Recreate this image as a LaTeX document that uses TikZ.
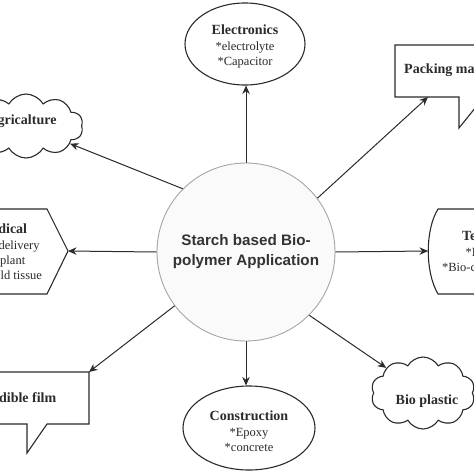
\documentclass[tikz,border=0pt]{standalone}
\usepackage{fontspec}
\setmainfont{Liberation Serif}
\setsansfont{Liberation Sans}
\usetikzlibrary{shapes.geometric,shapes.symbols,arrows.meta}
\definecolor{ink}{HTML}{2B2B2B}
\definecolor{ctxt}{HTML}{333333}
\newcommand\mytitle[1]{{\bfseries\fontsize{14}{15}\selectfont #1}}
\begin{document}
\begin{tikzpicture}[x=1pt,y=-1pt,
  shapeline/.style={draw=ink, line width=1.1pt, fill=white},
  conn/.style={draw=ink, line width=1pt, -{Stealth[length=8.5pt,width=7.5pt]}},
  lbl/.style={align=center, inner sep=0pt, text=ink, font=\fontsize{12.5}{15}\selectfont},
  cloudbox/.style={cloud, cloud puffs=10, cloud puff arc=120, aspect=1.6, shapeline, inner sep=0pt},
  ovalbox/.style={ellipse, shapeline, inner sep=0pt},
]
\useasboundingbox (0,0) rectangle (474,474);
\clip (0,0) rectangle (474,474);
\fill[white] (0,0) rectangle (474,474);

% centre
\node[circle, minimum size=178pt, inner sep=0pt, draw=gray!70, line width=0.9pt, fill=gray!4,
  font=\sffamily\bfseries\fontsize{15.2}{20}\selectfont, text=ctxt, align=center] (c) at (246,252)
  {Starch based Bio-\\polymer Application};

% Electronics
\node[ovalbox, minimum width=120pt, minimum height=82pt] (el) at (245,44) {};
\node[lbl] (elt) at (245,46) {\mytitle{Electronics}\\[1pt]{}*electrolyte\\{}*Capacitor};

% Packing
\draw[shapeline] (395,45) -- (500,45) -- (500,97) -- (484,97) -- (459,128) -- (459,97) -- (428,97) coordinate (pkin) -- (395,97) -- cycle;
\node[lbl, anchor=west] (pkt) at (404,70) {\mytitle{Packing material}};

% Agriculture
\node[cloudbox, minimum width=114pt, minimum height=64pt] (ag) at (26,126) {};
\node[lbl] (agt) at (22,121) {\mytitle{Agricalture}};

% Medical
\draw[shapeline] (-60,209) -- (47,209) -- (68,251) coordinate (mdin) -- (47,294) -- (-60,294) -- cycle;
\node[lbl] (mdt) at (3,252) {\mytitle{Medical}\\[1pt]{}*drug delivery\\{}*implant\\{}*scaffold tissue};

% Textile
\draw[shapeline] (500,209) -- (438,209) .. controls (425,230) and (425,272) .. (438,294) -- (500,294) -- cycle;
\coordinate (txin) at (428,251);
\node[lbl] (txt) at (482,252) {\mytitle{Textile}\\[1pt]{}*Fiber\\{}*Bio-composite};

% Edible film
\draw[shapeline] (-40,372) -- (89,372) coordinate (edin) -- (89,424) -- (47,424) -- (27,453) -- (27,424) -- (-40,424) -- cycle;
\node[lbl] (edt) at (23,398) {\mytitle{Edible film}};

% Construction
\node[ovalbox, minimum width=132pt, minimum height=84pt] (cn) at (249,428) {};
\node[lbl] (cnt) at (249,431) {\mytitle{Construction}\\[1pt]{}*Epoxy\\{}*concrete};

% Bio plastic
\node[cloudbox, minimum width=104pt, minimum height=72pt] (bp) at (423,393) {};
\node[lbl] (bpt) at (427,401) {\mytitle{Bio plastic}};

% connectors
\draw[conn] (c.north) -- (c.north |- el.south);
\draw[conn] (c.37) -- (pkin);
\draw[conn] (c.135) -- (ag);
\draw[conn] (c.180) -- (mdin);
\draw[conn] (c.0) -- (txin);
\draw[conn] (c.217) -- (edin);
\draw[conn] (c.south) -- (c.south |- cn.north);
\draw[conn] (c.-45) -- (bp);
\end{tikzpicture}
\end{document}
